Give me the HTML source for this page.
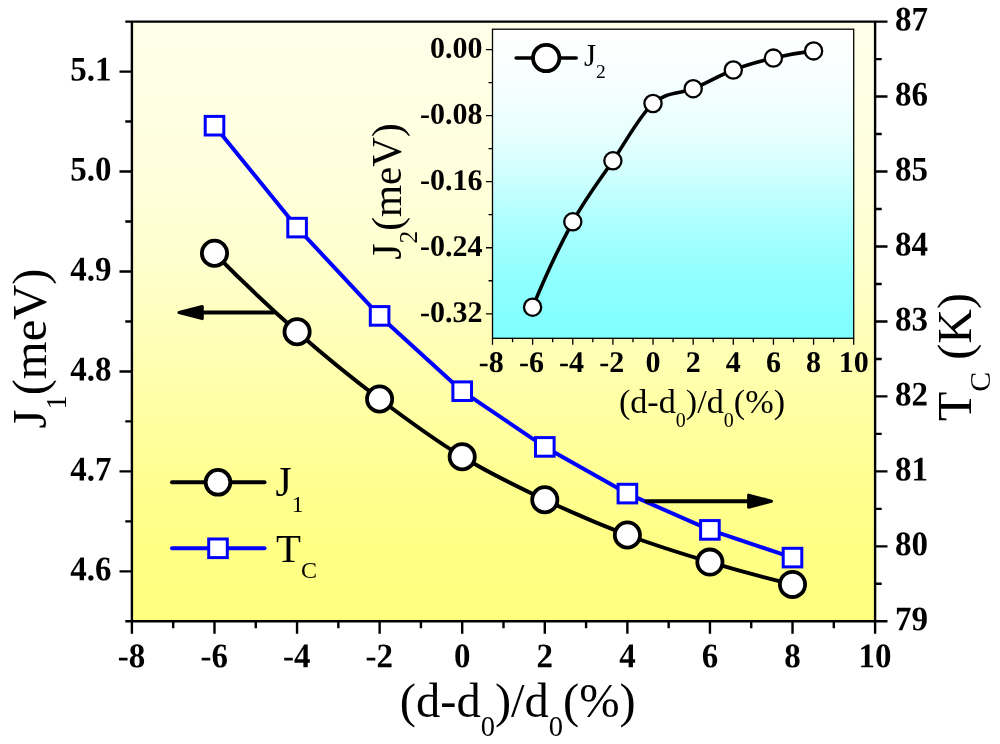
<!DOCTYPE html>
<html><head><meta charset="utf-8"><title>J1 and Tc versus strain</title>
<style>
html,body{margin:0;padding:0;background:#fff;}
body{width:1000px;height:744px;overflow:hidden;}
svg{display:block;}
text{font-family:"Liberation Serif","Times New Roman",serif;fill:#000;}
.tk{font-weight:bold;font-size:33px;}
.itk{font-weight:bold;font-size:30px;}
</style></head><body>
<svg width="1000" height="744" viewBox="0 0 1000 744">
<defs>
<linearGradient id="gy" x1="0" y1="0" x2="0" y2="1"><stop offset="0.000" stop-color="#ffffe8"/><stop offset="0.042" stop-color="#ffffe7"/><stop offset="0.083" stop-color="#ffffe6"/><stop offset="0.125" stop-color="#ffffe4"/><stop offset="0.167" stop-color="#ffffe2"/><stop offset="0.208" stop-color="#ffffdf"/><stop offset="0.250" stop-color="#ffffdd"/><stop offset="0.292" stop-color="#ffffd9"/><stop offset="0.333" stop-color="#ffffd5"/><stop offset="0.375" stop-color="#ffffd0"/><stop offset="0.417" stop-color="#ffffcb"/><stop offset="0.458" stop-color="#ffffc5"/><stop offset="0.500" stop-color="#ffffbd"/><stop offset="0.542" stop-color="#ffffb6"/><stop offset="0.583" stop-color="#ffffaf"/><stop offset="0.625" stop-color="#ffffa8"/><stop offset="0.667" stop-color="#ffffa1"/><stop offset="0.708" stop-color="#ffff9a"/><stop offset="0.750" stop-color="#ffff93"/><stop offset="0.792" stop-color="#ffff8e"/><stop offset="0.833" stop-color="#ffff8a"/><stop offset="0.875" stop-color="#ffff86"/><stop offset="0.917" stop-color="#ffff84"/><stop offset="0.958" stop-color="#ffff81"/><stop offset="1.000" stop-color="#ffff80"/></linearGradient>
<linearGradient id="gc" x1="0" y1="0" x2="0" y2="1"><stop offset="0.000" stop-color="#ffffff"/><stop offset="0.042" stop-color="#feffff"/><stop offset="0.083" stop-color="#fcffff"/><stop offset="0.125" stop-color="#f9ffff"/><stop offset="0.167" stop-color="#f7ffff"/><stop offset="0.208" stop-color="#f4ffff"/><stop offset="0.250" stop-color="#f0ffff"/><stop offset="0.292" stop-color="#ecffff"/><stop offset="0.333" stop-color="#e8ffff"/><stop offset="0.375" stop-color="#e2ffff"/><stop offset="0.417" stop-color="#daffff"/><stop offset="0.458" stop-color="#d2ffff"/><stop offset="0.500" stop-color="#c9ffff"/><stop offset="0.542" stop-color="#c0ffff"/><stop offset="0.583" stop-color="#b7ffff"/><stop offset="0.625" stop-color="#aeffff"/><stop offset="0.667" stop-color="#a7ffff"/><stop offset="0.708" stop-color="#a0ffff"/><stop offset="0.750" stop-color="#99ffff"/><stop offset="0.792" stop-color="#93ffff"/><stop offset="0.833" stop-color="#8effff"/><stop offset="0.875" stop-color="#89ffff"/><stop offset="0.917" stop-color="#86ffff"/><stop offset="0.958" stop-color="#82ffff"/><stop offset="1.000" stop-color="#80ffff"/></linearGradient>
</defs>
<rect width="1000" height="744" fill="#fff"/>
<rect x="131.9" y="21.6" width="743.2" height="599.7" fill="url(#gy)"/>
<g stroke="#000" stroke-width="2.4" fill="none" stroke-linecap="butt">
<path d="M125.3,21.6 H887.5"/>
<path d="M131.9,21.6 V621.3"/>
<path d="M875.1,21.6 V621.3"/>
<path d="M125.3,621.3 H887.5"/>
<path d="M131.9,571.33 H119.5 M131.9,521.35 H125.3 M131.9,471.37 H119.5 M131.9,421.40 H125.3 M131.9,371.43 H119.5 M131.9,321.45 H125.3 M131.9,271.48 H119.5 M131.9,221.50 H125.3 M131.9,171.52 H119.5 M131.9,121.55 H125.3 M131.9,71.58 H119.5 "/>
<path d="M875.1,583.82 H881.7 M875.1,546.34 H887.5 M875.1,508.86 H881.7 M875.1,471.38 H887.5 M875.1,433.89 H881.7 M875.1,396.41 H887.5 M875.1,358.93 H881.7 M875.1,321.45 H887.5 M875.1,283.97 H881.7 M875.1,246.49 H887.5 M875.1,209.01 H881.7 M875.1,171.53 H887.5 M875.1,134.04 H881.7 M875.1,96.56 H887.5 M875.1,59.08 H881.7 "/>
<path d="M131.90,621.3 V633.8 M173.19,621.3 V628.3 M214.48,621.3 V633.8 M255.77,621.3 V628.3 M297.06,621.3 V633.8 M338.34,621.3 V628.3 M379.63,621.3 V633.8 M420.92,621.3 V628.3 M462.21,621.3 V633.8 M503.50,621.3 V628.3 M544.79,621.3 V633.8 M586.08,621.3 V628.3 M627.37,621.3 V633.8 M668.66,621.3 V628.3 M709.94,621.3 V633.8 M751.23,621.3 V628.3 M792.52,621.3 V633.8 M833.81,621.3 V628.3 M875.10,621.3 V633.8 "/>
</g>
<text class="tk" transform="translate(111.6,580.3) rotate(0.03) scale(1,1.045)" text-anchor="end">4.6</text>
<text class="tk" transform="translate(111.6,480.4) rotate(0.03) scale(1,1.045)" text-anchor="end">4.7</text>
<text class="tk" transform="translate(111.6,380.4) rotate(0.03) scale(1,1.045)" text-anchor="end">4.8</text>
<text class="tk" transform="translate(111.6,280.5) rotate(0.03) scale(1,1.045)" text-anchor="end">4.9</text>
<text class="tk" transform="translate(111.6,180.5) rotate(0.03) scale(1,1.045)" text-anchor="end">5.0</text>
<text class="tk" transform="translate(111.6,80.6) rotate(0.03) scale(1,1.045)" text-anchor="end">5.1</text>
<text class="tk" transform="translate(895,630.3) rotate(0.03) scale(1,1.045)">79</text>
<text class="tk" transform="translate(895,555.3) rotate(0.03) scale(1,1.045)">80</text>
<text class="tk" transform="translate(895,480.4) rotate(0.03) scale(1,1.045)">81</text>
<text class="tk" transform="translate(895,405.4) rotate(0.03) scale(1,1.045)">82</text>
<text class="tk" transform="translate(895,330.4) rotate(0.03) scale(1,1.045)">83</text>
<text class="tk" transform="translate(895,255.5) rotate(0.03) scale(1,1.045)">84</text>
<text class="tk" transform="translate(895,180.5) rotate(0.03) scale(1,1.045)">85</text>
<text class="tk" transform="translate(895,105.6) rotate(0.03) scale(1,1.045)">86</text>
<text class="tk" transform="translate(895,30.6) rotate(0.03) scale(1,1.045)">87</text>
<text class="tk" transform="translate(131.6,667.2) rotate(0.03) scale(1,1.045)" text-anchor="middle">-8</text>
<text class="tk" transform="translate(214.2,667.2) rotate(0.03) scale(1,1.045)" text-anchor="middle">-6</text>
<text class="tk" transform="translate(296.8,667.2) rotate(0.03) scale(1,1.045)" text-anchor="middle">-4</text>
<text class="tk" transform="translate(379.3,667.2) rotate(0.03) scale(1,1.045)" text-anchor="middle">-2</text>
<text class="tk" transform="translate(462.2,667.2) rotate(0.03) scale(1,1.045)" text-anchor="middle">0</text>
<text class="tk" transform="translate(544.8,667.2) rotate(0.03) scale(1,1.045)" text-anchor="middle">2</text>
<text class="tk" transform="translate(627.4,667.2) rotate(0.03) scale(1,1.045)" text-anchor="middle">4</text>
<text class="tk" transform="translate(709.9,667.2) rotate(0.03) scale(1,1.045)" text-anchor="middle">6</text>
<text class="tk" transform="translate(792.5,667.2) rotate(0.03) scale(1,1.045)" text-anchor="middle">8</text>
<text class="tk" transform="translate(875.1,667.2) rotate(0.03) scale(1,1.045)" text-anchor="middle">10</text>
<text x="517.8" y="717.4" text-anchor="middle" font-size="48.5"><tspan>(d-d</tspan><tspan font-size="28.5" dy="18.5">0</tspan><tspan dy="-18.5">)/d</tspan><tspan font-size="28.5" dy="18.5">0</tspan><tspan dy="-18.5">(%)</tspan></text>
<text transform="translate(46.3,428.5) rotate(-90)" font-size="48.6"><tspan>J</tspan><tspan font-size="28.5" dy="19.5">1</tspan><tspan dy="-19.5">(meV)</tspan></text>
<text transform="translate(971,421) rotate(-90)" font-size="48"><tspan>T</tspan><tspan font-size="30" dy="19">C</tspan><tspan dy="-19"> (K)</tspan></text>
<rect x="492.5" y="29.2" width="361.2" height="309.1" fill="url(#gc)" stroke="#000" stroke-width="1.3"/>
<g stroke="#000" stroke-width="1.3" fill="none">
<path d="M492.5,49.60 H486.0 M492.5,82.62 H488.5 M492.5,115.65 H486.0 M492.5,148.67 H488.5 M492.5,181.70 H486.0 M492.5,214.72 H488.5 M492.5,247.74 H486.0 M492.5,280.77 H488.5 M492.5,313.79 H486.0 M492.50,338.3 V344.8 M512.57,338.3 V342.3 M532.63,338.3 V344.8 M552.70,338.3 V342.3 M572.77,338.3 V344.8 M592.83,338.3 V342.3 M612.90,338.3 V344.8 M632.97,338.3 V342.3 M653.03,338.3 V344.8 M673.10,338.3 V342.3 M693.17,338.3 V344.8 M713.23,338.3 V342.3 M733.30,338.3 V344.8 M753.37,338.3 V342.3 M773.43,338.3 V344.8 M793.50,338.3 V342.3 M813.57,338.3 V344.8 M833.63,338.3 V342.3 M853.70,338.3 V344.8 "/>
</g>
<text class="itk" transform="translate(482.5,57.8) rotate(0.03) scale(1,1.0)" text-anchor="end">0.00</text>
<text class="itk" transform="translate(482.5,123.8) rotate(0.03) scale(1,1.0)" text-anchor="end">-0.08</text>
<text class="itk" transform="translate(482.5,189.9) rotate(0.03) scale(1,1.0)" text-anchor="end">-0.16</text>
<text class="itk" transform="translate(482.5,255.9) rotate(0.03) scale(1,1.0)" text-anchor="end">-0.24</text>
<text class="itk" transform="translate(482.5,322.0) rotate(0.03) scale(1,1.0)" text-anchor="end">-0.32</text>
<text class="itk" transform="translate(491.3,372.1) rotate(0.03) scale(1,1.0)" text-anchor="middle">-8</text>
<text class="itk" transform="translate(531.4,372.1) rotate(0.03) scale(1,1.0)" text-anchor="middle">-6</text>
<text class="itk" transform="translate(571.6,372.1) rotate(0.03) scale(1,1.0)" text-anchor="middle">-4</text>
<text class="itk" transform="translate(611.7,372.1) rotate(0.03) scale(1,1.0)" text-anchor="middle">-2</text>
<text class="itk" transform="translate(653.0,372.1) rotate(0.03) scale(1,1.0)" text-anchor="middle">0</text>
<text class="itk" transform="translate(693.2,372.1) rotate(0.03) scale(1,1.0)" text-anchor="middle">2</text>
<text class="itk" transform="translate(733.3,372.1) rotate(0.03) scale(1,1.0)" text-anchor="middle">4</text>
<text class="itk" transform="translate(773.4,372.1) rotate(0.03) scale(1,1.0)" text-anchor="middle">6</text>
<text class="itk" transform="translate(813.6,372.1) rotate(0.03) scale(1,1.0)" text-anchor="middle">8</text>
<text class="itk" transform="translate(853.7,372.1) rotate(0.03) scale(1,1.0)" text-anchor="middle">10</text>
<text x="702" y="413.3" text-anchor="middle" font-size="34.2"><tspan>(d-d</tspan><tspan font-size="20" dy="13.6">0</tspan><tspan dy="-13.6">)/d</tspan><tspan font-size="20" dy="13.6">0</tspan><tspan dy="-13.6">(%)</tspan></text>
<text transform="translate(401,259.5) rotate(-90)" font-size="41.2"><tspan>J</tspan><tspan font-size="25.5" dy="15.5">2</tspan><tspan dy="-15.5">(meV)</tspan></text>
<path d="M532.63,307.20 C546.01,274.67 559.39,246.20 572.77,221.80 C586.14,197.40 599.52,180.52 612.90,160.80 C626.28,141.08 639.66,115.52 653.03,103.50 C666.41,91.48 679.79,94.28 693.17,88.70 C706.54,83.12 719.92,75.10 733.30,70.00 C746.68,64.90 760.06,61.28 773.43,58.10 C786.81,54.92 800.19,52.52 813.57,50.90" fill="none" stroke="#000" stroke-width="3.6" stroke-linecap="round" stroke-linejoin="round"/>
<circle cx="532.6" cy="307.2" r="8.6" fill="#fff" stroke="#000" stroke-width="2.3"/>
<circle cx="572.8" cy="221.8" r="8.6" fill="#fff" stroke="#000" stroke-width="2.3"/>
<circle cx="612.9" cy="160.8" r="8.6" fill="#fff" stroke="#000" stroke-width="2.3"/>
<circle cx="653.0" cy="103.5" r="8.6" fill="#fff" stroke="#000" stroke-width="2.3"/>
<circle cx="693.2" cy="88.7" r="8.6" fill="#fff" stroke="#000" stroke-width="2.3"/>
<circle cx="733.3" cy="70.0" r="8.6" fill="#fff" stroke="#000" stroke-width="2.3"/>
<circle cx="773.4" cy="58.1" r="8.6" fill="#fff" stroke="#000" stroke-width="2.3"/>
<circle cx="813.6" cy="50.9" r="8.6" fill="#fff" stroke="#000" stroke-width="2.3"/>
<path d="M516.2,58 H576.2" stroke="#000" stroke-width="3.6" stroke-linecap="round"/>
<circle cx="546.2" cy="58" r="13.2" fill="#fff" stroke="#000" stroke-width="3.8"/>
<text x="584" y="66" font-size="31"><tspan>J</tspan><tspan font-size="19.5" dy="11.5">2</tspan></text>
<path d="M214.5,125.7 L297.1,227.6 L379.6,315.9 L462.2,391.2 L544.8,446.9 L627.4,493.6 L709.9,529.9 L792.5,557.6" fill="none" stroke="#00f" stroke-width="4" stroke-linejoin="round"/>
<path d="M214.48,253.30 C242.00,281.28 269.53,307.42 297.06,331.70 C324.58,355.98 352.11,378.17 379.63,399.00 C407.16,419.83 434.69,439.92 462.21,456.70 C489.74,473.48 517.26,486.65 544.79,499.70 C572.31,512.75 599.84,524.60 627.37,535.00 C654.89,545.40 682.42,553.87 709.94,562.10 C737.47,570.33 765.00,577.77 792.52,584.40" fill="none" stroke="#000" stroke-width="4" stroke-linejoin="round"/>
<g stroke="#000" stroke-width="4" stroke-linecap="round" stroke-linejoin="round" fill="#000">
<path d="M273.6,312.5 H199" fill="none"/><path d="M202.3,306.4 L179,312.5 L202.3,318.6 Z" stroke-width="3"/>
<path d="M646.5,501.2 H751" fill="none"/><path d="M748.6,495.1 L771.5,501.2 L748.6,507.3 Z" stroke-width="3"/>
</g>
<rect x="205.2" y="116.4" width="18.6" height="18.6" fill="#fff" stroke="#00f" stroke-width="3"/>
<rect x="287.8" y="218.3" width="18.6" height="18.6" fill="#fff" stroke="#00f" stroke-width="3"/>
<rect x="370.3" y="306.6" width="18.6" height="18.6" fill="#fff" stroke="#00f" stroke-width="3"/>
<rect x="452.9" y="381.9" width="18.6" height="18.6" fill="#fff" stroke="#00f" stroke-width="3"/>
<rect x="535.5" y="437.6" width="18.6" height="18.6" fill="#fff" stroke="#00f" stroke-width="3"/>
<rect x="618.1" y="484.3" width="18.6" height="18.6" fill="#fff" stroke="#00f" stroke-width="3"/>
<rect x="700.6" y="520.6" width="18.6" height="18.6" fill="#fff" stroke="#00f" stroke-width="3"/>
<rect x="783.2" y="548.3" width="18.6" height="18.6" fill="#fff" stroke="#00f" stroke-width="3"/>
<circle cx="214.5" cy="253.3" r="12.6" fill="#fff" stroke="#000" stroke-width="3.8"/>
<circle cx="297.1" cy="331.7" r="12.6" fill="#fff" stroke="#000" stroke-width="3.8"/>
<circle cx="379.6" cy="399.0" r="12.6" fill="#fff" stroke="#000" stroke-width="3.8"/>
<circle cx="462.2" cy="456.7" r="12.6" fill="#fff" stroke="#000" stroke-width="3.8"/>
<circle cx="544.8" cy="499.7" r="12.6" fill="#fff" stroke="#000" stroke-width="3.8"/>
<circle cx="627.4" cy="535.0" r="12.6" fill="#fff" stroke="#000" stroke-width="3.8"/>
<circle cx="709.9" cy="562.1" r="12.6" fill="#fff" stroke="#000" stroke-width="3.8"/>
<circle cx="792.5" cy="584.4" r="12.6" fill="#fff" stroke="#000" stroke-width="3.8"/>
<path d="M172,482.3 H264.5" stroke="#000" stroke-width="4" stroke-linecap="round"/>
<circle cx="218" cy="482.3" r="12.4" fill="#fff" stroke="#000" stroke-width="3.8"/>
<path d="M172,548.3 H264.5" stroke="#00f" stroke-width="4" stroke-linecap="round"/>
<rect x="208.7" y="539" width="18.6" height="18.6" fill="#fff" stroke="#00f" stroke-width="3"/>
<text x="275.5" y="496.4" font-size="41.5"><tspan>J</tspan><tspan font-size="23.5" dy="16">1</tspan></text>
<text x="276" y="562" font-size="40.8"><tspan>T</tspan><tspan font-size="24" dy="16.3">C</tspan></text>
</svg></body></html>
